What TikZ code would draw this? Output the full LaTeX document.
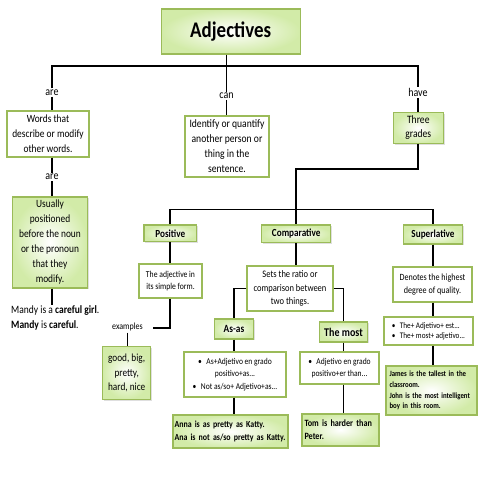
\documentclass[tikz,border=0pt]{standalone}
\usepackage{fontspec}
\setmainfont[FakeStretch=0.85]{Carlito}
\usetikzlibrary{shadows}
\definecolor{gb}{RGB}{155,187,89}
\definecolor{gf}{RGB}{210,235,168}
\tikzset{
  box/.style={draw=gb, line width=1.2pt, fill=white, inner sep=0pt, align=center},
  gbox/.style={box, inner color=white, outer color=gf,
    drop shadow={opacity=0.25, shadow xshift=1.2pt, shadow yshift=-1.2pt}},
  con/.style={line width=1.8pt, black},
  lbl/.style={inner sep=1pt, font=\fontsize{11.8}{13}\selectfont},
}
\begin{document}
\begin{tikzpicture}[x=1pt, y=-1pt]
\useasboundingbox (0,0) rectangle (480,480);
% title
\node[gbox, minimum width=139pt, minimum height=45pt, font=\fontsize{22.3}{24}\selectfont\bfseries] (adj) at (230.7,31.5) {Adjectives};
\node[lbl] (are1) at (52,92.5) {are};
\node[lbl] (can) at (226.5,96) {can};
\node[lbl] (have) at (418,92.5) {have};
\coordinate (bL) at (52,66);
\coordinate (bR) at (418,66);
\draw[con] (adj.south -| can) -- (can.north);
\draw[con] (are1.north) -- (bL) -- (bR) -- (have.north);
% left column
\node[box, minimum width=82pt, minimum height=46pt, font=\fontsize{11.05}{15}\selectfont] (words) at (48,134) {Words that\\describe or modify\\other words.};
\draw[con] (are1.south) -- (are1.south |- words.north);
\node[lbl] (are2) at (52,177) {are};
\draw[con] (words.south -| are2) -- (are2.north);
\node[gbox, minimum width=74.6pt, minimum height=91pt, font=\fontsize{11.05}{15}\selectfont] (usual) at (50,242.5) {Usually\\positioned\\before the noun\\or the pronoun\\that they\\modify.};
\draw[con] (are2.south) -- (are2.south |- usual.north);
\node[anchor=north west, inner sep=0pt, align=left, font=\fontsize{11.2}{15}\selectfont] (mandy) at (11,305) {Mandy is a \textbf{careful girl}.\\\textbf{Mandy} is \textbf{careful}.};
\draw[con] (usual.south -| are2) -- (mandy.north -| are2);
% middle
\node[box, minimum width=84pt, minimum height=61pt, font=\fontsize{11.3}{15}\selectfont] (ident) at (227,146.5) {Identify or quantify\\another person or\\thing in the\\sentence.};
\draw[con] (can.south) -- (can.south |- ident.north);
% right
\node[gbox, minimum width=50pt, minimum height=31pt, font=\fontsize{11.3}{14.3}\selectfont] (three) at (418.3,127.8) {Three\\grades};
\draw[con] (have.south) -- (have.south |- three.north);
\coordinate (t1) at (418,169);
\coordinate (t2) at (296,169);
\coordinate (j) at (296,209.5);
\coordinate (pL) at (170.3,209.5);
\coordinate (sR) at (433,209.5);
\draw[con] (three.south -| t1) -- (t1) -- (t2) -- (j);
% grades
\node[gbox, minimum width=52.7pt, minimum height=16.7pt, font=\fontsize{10.8}{12}\selectfont\bfseries] (positive) at (170.3,233.3) {Positive};
\node[gbox, minimum width=69pt, minimum height=17.7pt, font=\fontsize{10.8}{12}\selectfont\bfseries] (comp) at (296.2,233.8) {Comparative};
\node[gbox, minimum width=59.4pt, minimum height=19pt, font=\fontsize{10.8}{12}\selectfont\bfseries] (superl) at (433,234.5) {Superlative};
\draw[con] (positive.north) -- (pL) -- (sR) -- (superl.north);
\draw[con] (j) -- (comp.north -| j);
% positive branch
\node[box, minimum width=63pt, minimum height=34pt, font=\fontsize{9.05}{12.3}\selectfont] (simple) at (170.5,281) {The adjective in\\its simple form.};
\draw[con] (positive.south) -- (positive.south |- simple.north);
\node[inner sep=1.5pt, font=\fontsize{9.4}{10}\selectfont] (ex) at (127.5,327) {examples};
\coordinate (exr) at (153,328);
\draw[con] (simple.south -| positive) |- (exr);
\node[gbox, minimum width=48pt, minimum height=52.7pt, font=\fontsize{10.9}{14.2}\selectfont] (good) at (126.7,373) {good, big,\\pretty,\\hard, nice};
\draw[con] (ex.south) -- (ex.south |- good.north);
% comparative branch
\node[box, minimum width=86pt, minimum height=45pt, font=\fontsize{10}{13.3}\selectfont] (sets) at (290,288.5) {Sets the ratio or\\comparison between\\two things.};
\draw[con] (comp.south) -- (comp.south |- sets.north);
\node[gbox, minimum width=39pt, minimum height=20pt, font=\fontsize{11}{12}\selectfont\bfseries] (asas) at (234,329) {As-as};
\node[gbox, minimum width=48pt, minimum height=20pt, font=\fontsize{11.8}{13}\selectfont\bfseries] (themost) at (343.5,332) {The most};
\draw[con] (sets.west) -| (asas.north);
\draw[con] (sets.east) -| (themost.north);
\node[box, minimum width=102pt, minimum height=45pt, font=\fontsize{8.9}{12.5}\selectfont] (asbul) at (235,374.5) {\textbullet\enspace As+Adjetivo en grado\\positivo+as...\\\textbullet\enspace Not as/so+ Adjetivo+as...};
\draw[con] (asas.south) -- (asas.south |- asbul.north);
\node[gbox, minimum width=115pt, minimum height=33pt, text width=112pt, align=left, font=\fontsize{9.3}{13.3}\selectfont\bfseries] (anna) at (230.5,431.5) {Anna is as pretty as Katty.\\Ana is not as/so pretty as Katty.};
\draw[con] (asbul.south -| asas) -- (anna.north -| asas);
\node[box, minimum width=79pt, minimum height=32pt, font=\fontsize{8.9}{11.7}\selectfont] (mostbul) at (339.5,368) {\textbullet\enspace Adjetivo en grado\\positivo+er than...};
\draw[con] (themost.south) -- (themost.south |- mostbul.north);
\node[gbox, minimum width=77pt, minimum height=32pt, text width=72pt, align=left, font=\fontsize{9.6}{12.7}\selectfont\bfseries] (tom) at (340.5,430) {Tom is harder than\\Peter.};
\draw[con] (mostbul.south -| themost) -- (tom.north -| themost);
% superlative branch
\node[box, minimum width=79pt, minimum height=35pt, font=\fontsize{9.5}{13.3}\selectfont] (denotes) at (432.5,284.5) {Denotes the highest\\degree of quality.};
\draw[con] (superl.south) -- (superl.south |- denotes.north);
\node[box, minimum width=89pt, minimum height=28pt, align=left, font=\fontsize{8.5}{10}\selectfont] (supbul) at (428.5,331) {\textbullet\enspace The+ Adjetivo+ est...\\\textbullet\enspace The+ most+ adjetivo...};
\draw[con] (denotes.south -| superl) -- (supbul.north -| superl);
\node[gbox, minimum width=91pt, minimum height=49pt, text width=84pt, align=left, font=\fontsize{8}{10.7}\selectfont\bfseries] (james) at (431.5,390.5) {James is the tallest in the\\classroom.\\John is the most intelligent\\boy in this room.};
\draw[con] (supbul.south -| superl) -- (james.north -| superl);
\end{tikzpicture}
\end{document}
